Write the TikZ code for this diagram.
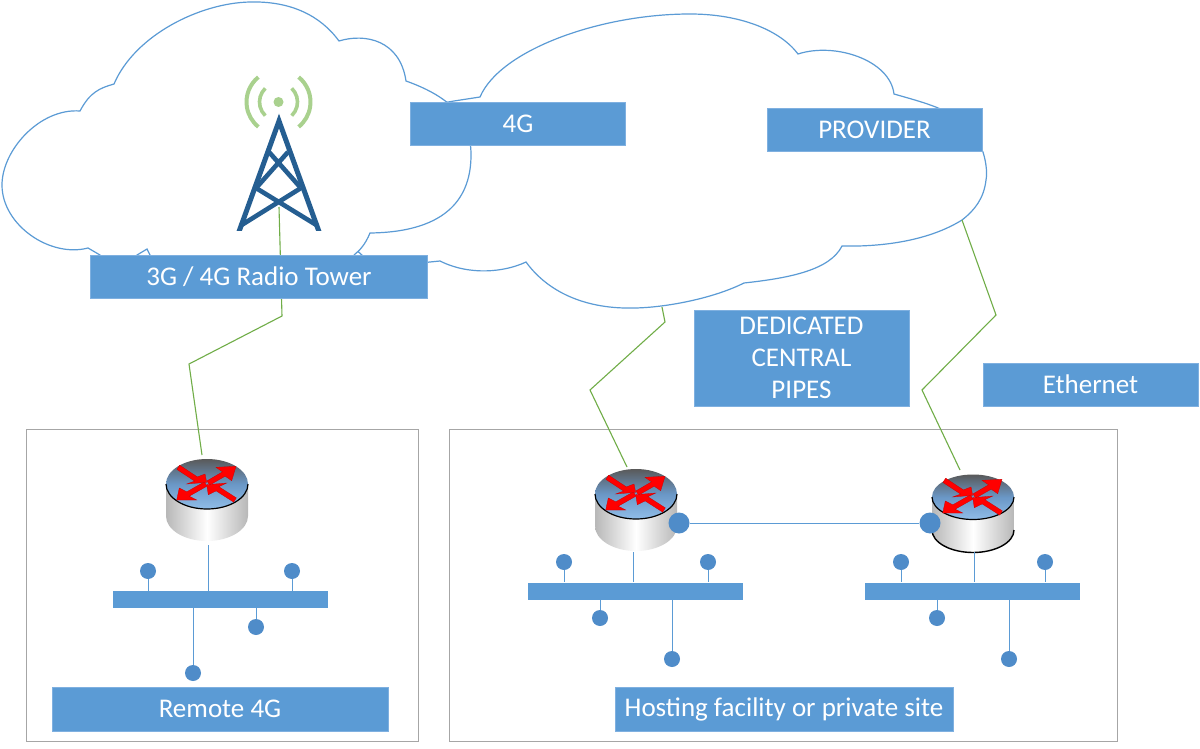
\documentclass[tikz,border=0pt]{standalone}
\usepackage{fontspec}
\setmainfont{Carlito}
\definecolor{accent}{HTML}{5B9BD5}
\definecolor{boxedge}{HTML}{7FB0E0}
\definecolor{dotblue}{HTML}{4F8CC9}
\definecolor{greenline}{HTML}{70AD47}
\definecolor{towerblue}{HTML}{255E91}
\definecolor{radiogreen}{HTML}{A9D18E}
\definecolor{framegray}{HTML}{A6A6A6}
\definecolor{topmid}{HTML}{6A97C6}
\definecolor{toplow}{HTML}{90BDE8}
\tikzset{
  x=1pt,y=-1pt,
  cloud line/.style={draw=accent,line width=1.2pt,fill=white},
  label box/.style={rectangle,fill=accent,draw=boxedge,line width=0.8pt,text=white,inner sep=0pt,align=center,
    font=\fontsize{27}{32}\selectfont},
  bar/.style={rectangle,fill=accent,inner sep=0pt,minimum width=215pt,minimum height=17pt},
  frame box/.style={draw=framegray,line width=1pt},
  link/.style={draw=greenline,line width=1.1pt},
  wire/.style={draw=accent,line width=0.9pt},
  tap/.style={circle,fill=dotblue,inner sep=0pt,minimum size=16pt},
  port/.style={circle,fill=dotblue,inner sep=0pt,minimum size=21pt},
  redarrow/.style={fill=red,draw=red!80!black,line width=0.3pt},
  pics/router/.style 2 args={code={
    \shade[left color=black!28,right color=black!28,middle color=white]
      (-41,0) -- (-41,#2) arc[start angle=180,end angle=360,x radius=41pt,y radius=#1pt] -- (41,0)
      arc[start angle=360,end angle=180,x radius=41pt,y radius=#1pt] -- cycle;
    \shade[top color=black!65,bottom color=toplow,middle color=topmid]
      (0,0) ellipse[x radius=41pt,y radius=#1pt];
    \draw[black,line width=1.2pt] (-41,0) arc[start angle=180,end angle=360,x radius=41pt,y radius=#1pt];
    \draw[redarrow] (0,-3.15)--(15.55,-12.15)--(9,-16.7)--(29,-17.7)--(24.7,-3.3)--(18.15,-7.85)--(2.6,1.15)--cycle;
    \draw[redarrow] (-2.5,-2.2)--(-20.2,7.8)--(-27.7,4)--(-30.3,16)--(-10.3,16)--(-17.8,12.2)--(-.1,2.2)--cycle;
    \draw[redarrow] (-27.32,-18.79)--(-9.62,-7.09)--(-2,-10)--(-.3,-1.7)--(-20.3,0)--(-12.38,-2.91)--(-30.08,-14.61)--cycle;
    \draw[redarrow] (29.35,13.9)--(11.85,2.7)--(19.7,-1)--(-.3,.7)--(1.3,10.7)--(9.15,6.9)--(26.65,18.1)--cycle;
  }},
}
\begin{document}
\begin{tikzpicture}
\useasboundingbox (0,0) rectangle (1200,749);
\fill[white] (0,0) rectangle (1200,749);

% clouds
\path[cloud line] (480,97) .. controls (500,50) and (600,14) .. (690,14)
  .. controls (740,14) and (780,30) .. (798,54)
  .. controls (835,42) and (890,60) .. (894,94)
  .. controls (915,100) and (930,104) .. (945,111)
  -- (983,152) .. controls (987,165) and (987,175) .. (986,180)
  .. controls (984,198) and (975,210) .. (962,220)
  .. controls (930,240) and (885,247) .. (842,246)
  .. controls (830,270) and (790,278) .. (744,283)
  .. controls (710,300) and (660,308) .. (633,308)
  .. controls (590,309) and (550,295) .. (526,262)
  .. controls (505,272) and (470,276) .. (440,261)
  -- (420,263) -- (345,263) -- (345,120) -- (454,101) -- cycle;
\path[cloud line] (80,111) .. controls (90,92) and (100,88) .. (114,84)
  .. controls (135,35) and (200,3) .. (250,2)
  .. controls (290,1) and (320,15) .. (339,41)
  .. controls (365,33) and (400,40) .. (406,81)
  .. controls (420,86) and (433,92) .. (444,100)
  .. controls (465,115) and (471,135) .. (471,155)
  .. controls (471,195) and (450,232) .. (370,233)
  .. controls (365,245) and (360,250) .. (354,255)
  -- (358,251.5) -- (363,256) -- (363,265) -- (150,265) -- (150,255) -- (147,249) -- (137,255)
  -- (137,265) -- (100,265) -- (100,255) -- (88,248)
  .. controls (50,258) and (2,225) .. (2,185)
  .. controls (2,150) and (40,108) .. (80,111) -- cycle;

% frames
\draw[frame box] (26.5,429.5) rectangle (418.5,741.5);
\draw[frame box] (449.5,429.5) rectangle (1117.5,741.5);

% routers
\pic at (207,484) {router={25}{32}};
\pic at (636,494) {router={25}{32}};
\pic at (973,497) {router={22.5}{33}};
\draw[black,line width=1.4pt] (932,530) arc[start angle=180,end angle=360,x radius=41pt,y radius=22.5pt];
\coordinate (rA) at (202,455);
\coordinate (rB) at (627,467);
\coordinate (rC) at (960,470);

% green links
\coordinate (cloudA) at (279,207);
\coordinate (bendA1) at (282,316);
\coordinate (bendA2) at (189,364);
\coordinate (cloudB) at (662,307);
\coordinate (bendB1) at (665,322);
\coordinate (bendB2) at (590,390);
\coordinate (cloudC) at (962,220);
\coordinate (bendC1) at (996,315);
\coordinate (bendC2) at (922,390);
\draw[link] (cloudA) -- (bendA1) -- (bendA2) -- (rA);
\draw[link] (cloudB) -- (bendB1) -- (bendB2) -- (rB);
\draw[link] (cloudC) -- (bendC1) -- (bendC2) -- (rC);

% radio tower
\coordinate (ant) at (278.5,102);
\fill[radiogreen] (ant) circle[radius=5pt];
\draw[radiogreen,line width=4pt] (ant) ++(129:32pt) arc[start angle=129,end angle=231,radius=32pt];
\draw[radiogreen,line width=4pt] (ant) ++(51:32pt) arc[start angle=51,end angle=-51,radius=32pt];
\draw[radiogreen,line width=3.6pt] (ant) ++(134:19pt) arc[start angle=134,end angle=226,radius=19pt];
\draw[radiogreen,line width=3.6pt] (ant) ++(46:19pt) arc[start angle=46,end angle=-46,radius=19pt];
\begin{scope}
\clip (230,110) rectangle (330,230);
\draw[towerblue,line width=5pt,miter limit=20] (238.5,233) -- (279,121) -- (319.5,233);
\draw[towerblue,line width=4.6pt] (269,152) -- (300,187) (288,152) -- (257,187);
\draw[towerblue,line width=4.6pt] (256,188) -- (318,226) (301,188) -- (240,226);
\end{scope}

% label boxes
\node[label box,minimum width=337pt,minimum height=43pt] (radio) at (259,277) {3G / 4G Radio Tower};
\node[label box,minimum width=215pt,minimum height=43pt] (fourg) at (518,123.5) {4G};
\node[label box,minimum width=215pt,minimum height=43pt] (prov) at (874.5,130) {PROVIDER};
\node[label box,minimum width=215pt,minimum height=96pt] (pipes) at (801.5,358) {DEDICATED\\CENTRAL\\PIPES};
\node[label box,minimum width=215pt,minimum height=43pt] (eth) at (1090.5,384.5) {Ethernet};
\node[label box,minimum width=336pt,minimum height=44pt] (remote) at (220,709) {Remote 4G};
\node[label box,minimum width=338pt,minimum height=44pt] (host) at (784,709) {Hosting facility or private site};

% LAN bars
\node[bar] (barA) at (220.5,599.5) {};
\node[bar] (barB) at (635.5,591) {};
\node[bar] (barC) at (972.5,591) {};

\coordinate (upA) at (208,545);
\coordinate (upB) at (633,552);
\coordinate (upC) at (974,552);
\draw[wire] (upA) -- (upA |- barA.north);
\draw[wire] (upB) -- (upB |- barB.north);
\draw[wire] (upC) -- (upC |- barC.north);

\node[tap] (a1) at (148,571) {};
\node[tap] (a2) at (292,571) {};
\node[tap] (a3) at (256,627) {};
\node[tap] (a4) at (193,673) {};
\node[tap] (b1) at (564,562) {};
\node[tap] (b2) at (708,562) {};
\node[tap] (b3) at (600,618) {};
\node[tap] (b4) at (672,659) {};
\node[tap] (c1) at (901,562) {};
\node[tap] (c2) at (1045,562) {};
\node[tap] (c3) at (937,618) {};
\node[tap] (c4) at (1009,659) {};
\draw[wire] (a1) -- (a1 |- barA.north);
\draw[wire] (a2) -- (a2 |- barA.north);
\draw[wire] (a3) -- (a3 |- barA.south);
\draw[wire] (a4) -- (a4 |- barA.south);
\draw[wire] (b1) -- (b1 |- barB.north);
\draw[wire] (b2) -- (b2 |- barB.north);
\draw[wire] (b3) -- (b3 |- barB.south);
\draw[wire] (b4) -- (b4 |- barB.south);
\draw[wire] (c1) -- (c1 |- barC.north);
\draw[wire] (c2) -- (c2 |- barC.north);
\draw[wire] (c3) -- (c3 |- barC.south);
\draw[wire] (c4) -- (c4 |- barC.south);

% router interconnect
\node[port] (pL) at (679,523) {};
\node[port] (pR) at (930,523) {};
\draw[wire] (pL) -- (pR);
\end{tikzpicture}
\end{document}
